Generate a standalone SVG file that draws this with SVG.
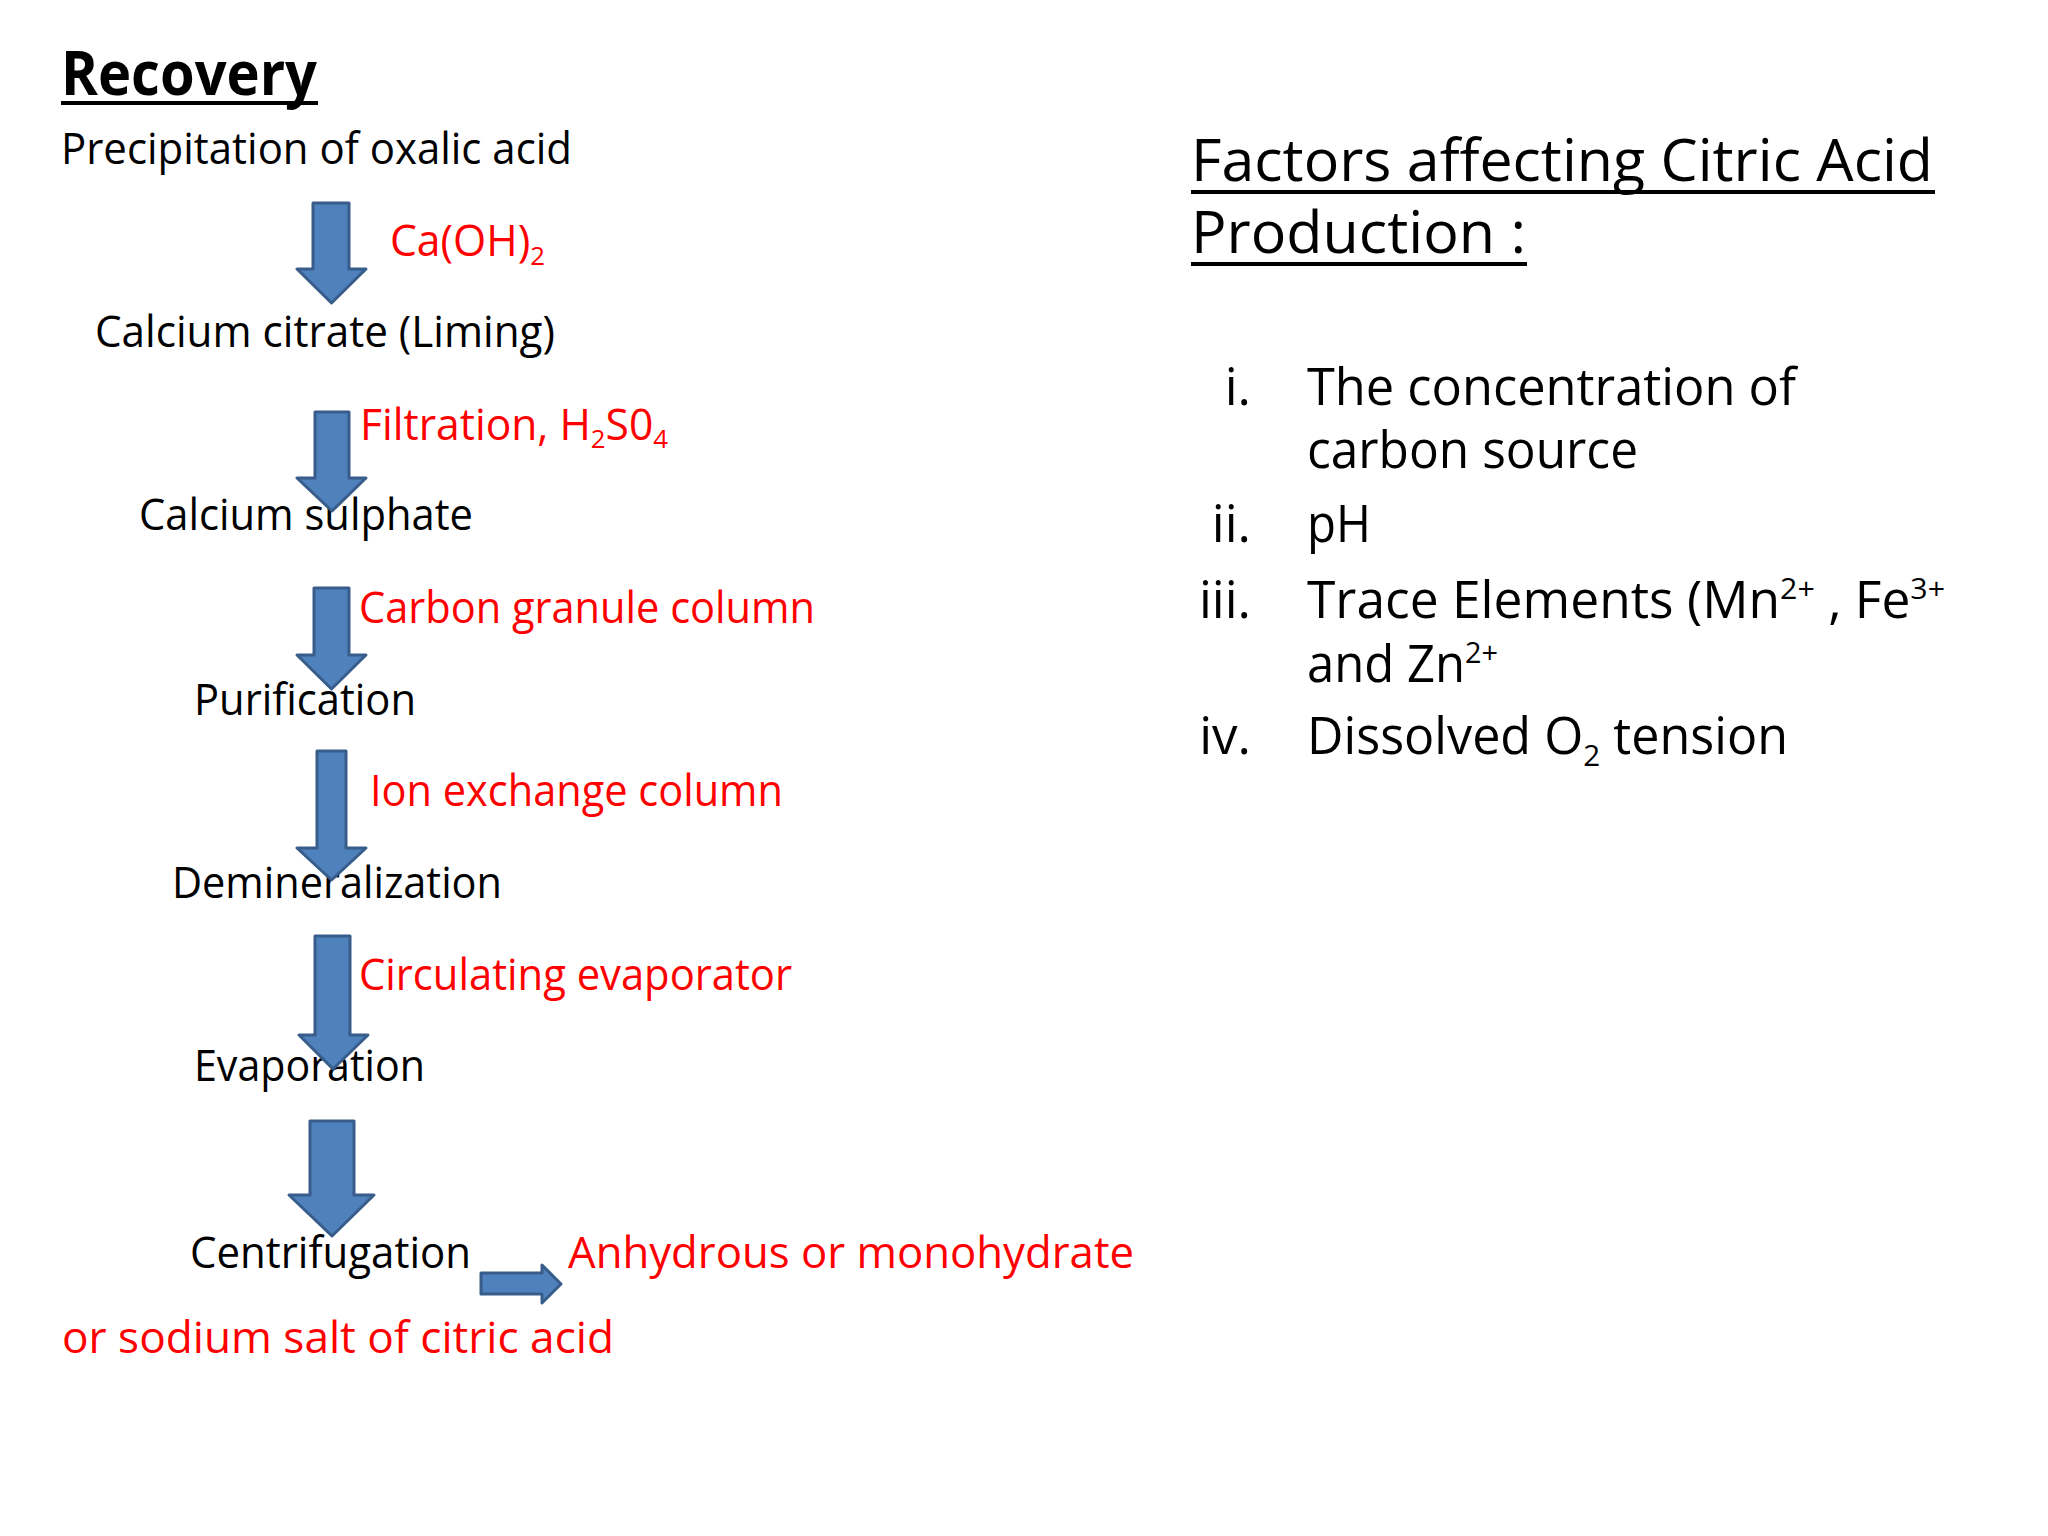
<svg xmlns="http://www.w3.org/2000/svg" width="2048" height="1536" viewBox="0 0 2048 1536">
<style>
.t{font-family:"Open Sans","Liberation Sans",sans-serif;font-size:43px;fill:#000}
.r{fill:#FF0000}
.h{font-size:51px}
.big{font-size:59px}
.rec{font-size:60px;font-weight:bold}
.arrow{fill:#4F81BD;stroke:#385D8A;stroke-width:3;stroke-linejoin:round}
.ul{fill:#000}
</style>
<rect width="2048" height="1536" fill="#FFFFFF"/>
<g id="title-recovery">
<text class="t rec" x="61" y="95" textLength="256" lengthAdjust="spacingAndGlyphs">Recovery</text>
<rect class="ul" x="61" y="101" width="257" height="4"/>
</g>
<g id="node-precipitation"><text class="t" x="61" y="164" textLength="511" lengthAdjust="spacingAndGlyphs">Precipitation of oxalic acid</text></g>
<g id="label-caoh2"><text class="t r" x="390" y="256" textLength="155" lengthAdjust="spacingAndGlyphs">Ca(OH)<tspan font-size="26" dy="9">2</tspan></text></g>
<g id="node-calcium-citrate"><text class="t" x="95" y="347" textLength="460" lengthAdjust="spacingAndGlyphs">Calcium citrate (Liming)</text></g>
<g id="label-filtration"><text class="t r" x="360" y="440" textLength="308" lengthAdjust="spacingAndGlyphs">Filtration, H<tspan font-size="26" dy="8">2</tspan><tspan dy="-8">S0</tspan><tspan font-size="26" dy="8">4</tspan></text></g>
<g id="node-calcium-sulphate"><text class="t" x="139" y="530" textLength="334" lengthAdjust="spacingAndGlyphs">Calcium sulphate</text></g>
<g id="label-carbon"><text class="t r" x="359" y="623" textLength="456" lengthAdjust="spacingAndGlyphs">Carbon granule column</text></g>
<g id="node-purification"><text class="t" x="194" y="715" textLength="222" lengthAdjust="spacingAndGlyphs">Purification</text></g>
<g id="label-ion"><text class="t r" x="370" y="806" textLength="413" lengthAdjust="spacingAndGlyphs">Ion exchange column</text></g>
<g id="node-demineralization"><text class="t" x="172" y="898" textLength="330" lengthAdjust="spacingAndGlyphs">Demineralization</text></g>
<g id="label-circulating"><text class="t r" x="359" y="990" textLength="433" lengthAdjust="spacingAndGlyphs">Circulating evaporator</text></g>
<g id="node-evaporation"><text class="t" x="194" y="1081" textLength="231" lengthAdjust="spacingAndGlyphs">Evaporation</text></g>
<g id="node-centrifugation"><text class="t" x="190" y="1268" textLength="281" lengthAdjust="spacingAndGlyphs">Centrifugation</text></g>
<g id="node-anhydrous"><text class="t r" x="568" y="1268" textLength="566" lengthAdjust="spacingAndGlyphs">Anhydrous or monohydrate</text></g>
<g id="node-sodium-salt"><text class="t r" x="62" y="1353" textLength="552" lengthAdjust="spacingAndGlyphs">or sodium salt of citric acid</text></g>
<g id="connectors">
<path class="arrow" d="M313,203 H349 V269 H366 L331.5,303 L297,269 H313 Z"/>
<path class="arrow" d="M315,412 H349 V478 H366 L332,511 L297,478 H315 Z"/>
<path class="arrow" d="M314,588 H349 V655 H366 L331.5,689 L297,655 H314 Z"/>
<path class="arrow" d="M317,751 H346 V848 H366 L331.5,880 L297,848 H317 Z"/>
<path class="arrow" d="M315,936 H350 V1035 H368 L333,1069 L299,1035 H315 Z"/>
<path class="arrow" d="M310,1121 H354 V1195 H374 L332,1236 L289,1195 H310 Z"/>
<path class="arrow" d="M481,1273 H542 V1265 L561,1284 L542,1303 V1294 H481 Z"/>
</g>
<g id="title-factors">
<text class="t big" x="1191" y="181" textLength="742" lengthAdjust="spacingAndGlyphs">Factors affecting Citric Acid</text>
<rect class="ul" x="1191" y="190" width="744" height="4"/>
<text class="t big" x="1191" y="253" textLength="335" lengthAdjust="spacingAndGlyphs">Production :</text>
<rect class="ul" x="1191" y="262" width="336" height="4"/>
</g>
<g id="factor-1">
<text class="t h" x="1251" y="405" text-anchor="end">i.</text>
<text class="t h" x="1307" y="405" textLength="489" lengthAdjust="spacingAndGlyphs">The concentration of</text>
<text class="t h" x="1307" y="468" textLength="331" lengthAdjust="spacingAndGlyphs">carbon source</text>
</g>
<g id="factor-2">
<text class="t h" x="1251" y="542" text-anchor="end">ii.</text>
<text class="t h" x="1307" y="542" textLength="64" lengthAdjust="spacingAndGlyphs">pH</text>
</g>
<g id="factor-3">
<text class="t h" x="1251" y="618" text-anchor="end">iii.</text>
<text class="t h" x="1307" y="618" textLength="638" lengthAdjust="spacingAndGlyphs">Trace Elements (Mn<tspan font-size="30" dy="-19">2+</tspan><tspan dy="19"> , Fe</tspan><tspan font-size="30" dy="-19">3+</tspan></text>
<text class="t h" x="1307" y="682" textLength="191" lengthAdjust="spacingAndGlyphs">and Zn<tspan font-size="30" dy="-19">2+</tspan></text>
</g>
<g id="factor-4">
<text class="t h" x="1251" y="754" text-anchor="end">iv.</text>
<text class="t h" x="1307" y="754" textLength="481" lengthAdjust="spacingAndGlyphs">Dissolved O<tspan font-size="30" dy="12">2</tspan><tspan dy="-12"> tension</tspan></text>
</g>
</svg>
